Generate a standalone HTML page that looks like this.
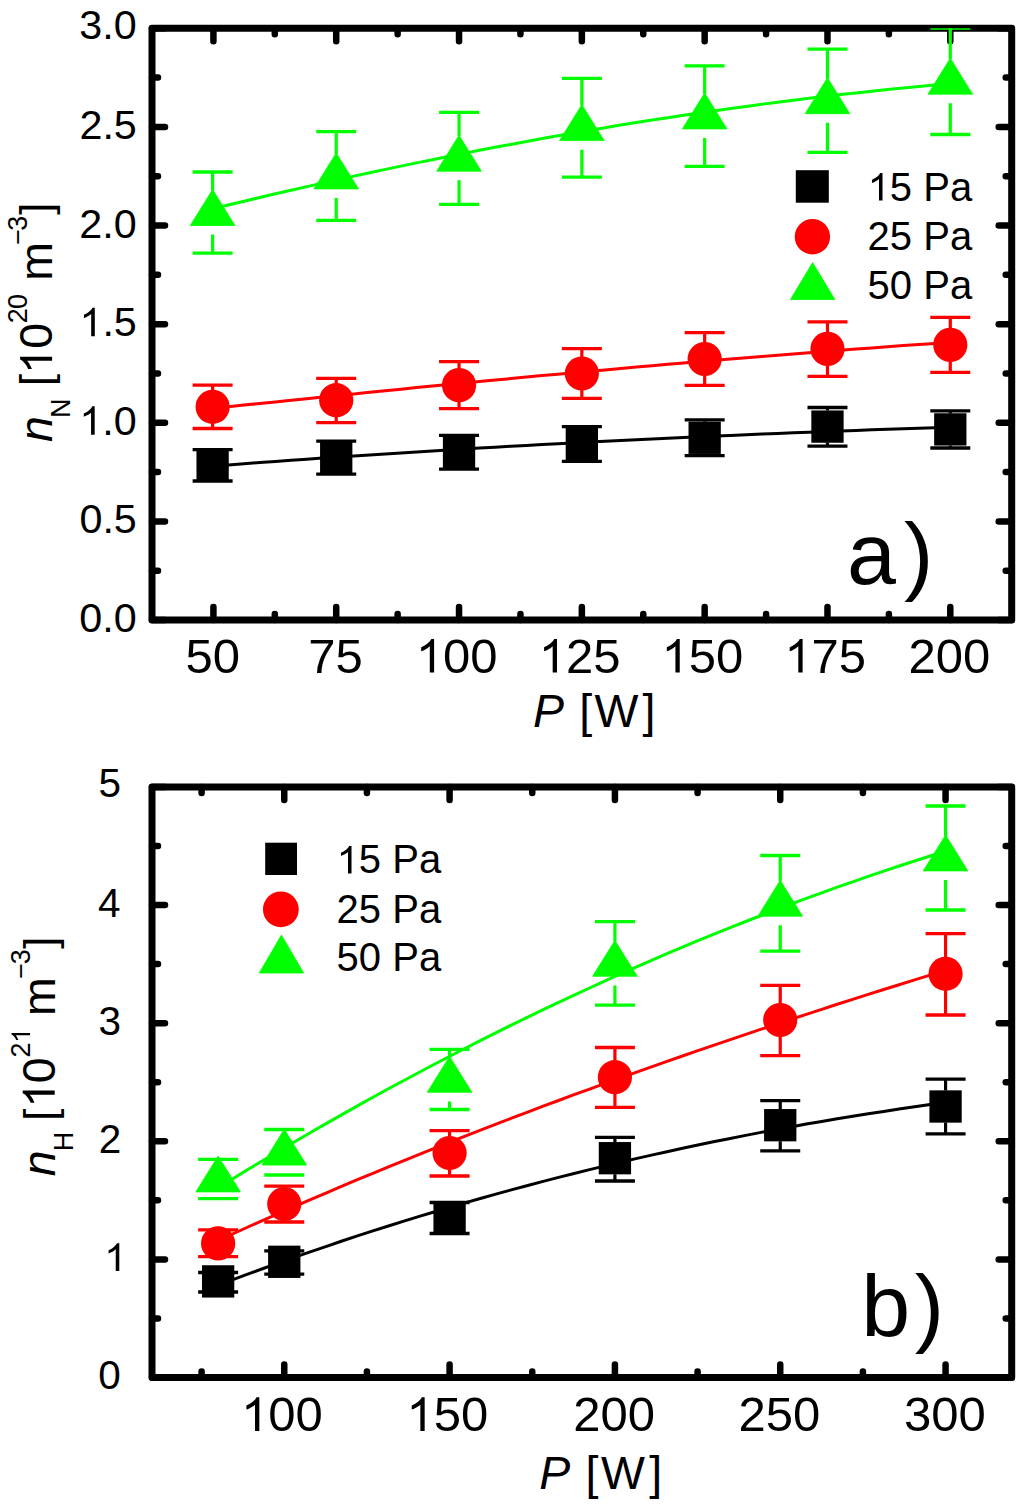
<!DOCTYPE html>
<html><head><meta charset="utf-8"><title>n_N and n_H vs P</title>
<style>
html,body{margin:0;padding:0;background:#fff;}
body{width:1025px;height:1509px;overflow:hidden;}
svg{display:block;}
svg text{font-family:"Liberation Sans", sans-serif;fill:#000;}
</style></head><body>
<svg width="1025" height="1509" viewBox="0 0 1025 1509">
<defs>
<clipPath id="clipA"><rect x="152.0" y="28.3" width="859.70" height="591.70"/></clipPath>
<clipPath id="clipB"><rect x="152.0" y="786.9" width="859.70" height="590.60"/></clipPath>
</defs>
<rect width="1025" height="1509" fill="#fff"/>
<g id="panel-a">
<path d="M213.41 620.00V607.00M213.41 28.30V41.30M336.22 620.00V607.00M336.22 28.30V41.30M459.04 620.00V607.00M459.04 28.30V41.30M581.85 620.00V607.00M581.85 28.30V41.30M704.66 620.00V607.00M704.66 28.30V41.30M827.48 620.00V607.00M827.48 28.30V41.30M950.29 620.00V607.00M950.29 28.30V41.30M274.81 620.00V614.00M274.81 28.30V34.30M397.63 620.00V614.00M397.63 28.30V34.30M520.44 620.00V614.00M520.44 28.30V34.30M643.26 620.00V614.00M643.26 28.30V34.30M766.07 620.00V614.00M766.07 28.30V34.30M888.89 620.00V614.00M888.89 28.30V34.30M152.00 620.00H165.00M1011.70 620.00H998.70M152.00 521.38H165.00M1011.70 521.38H998.70M152.00 422.77H165.00M1011.70 422.77H998.70M152.00 324.15H165.00M1011.70 324.15H998.70M152.00 225.53H165.00M1011.70 225.53H998.70M152.00 126.92H165.00M1011.70 126.92H998.70M152.00 28.30H165.00M1011.70 28.30H998.70M152.00 570.69H158.00M1011.70 570.69H1005.70M152.00 472.07H158.00M1011.70 472.07H1005.70M152.00 373.46H158.00M1011.70 373.46H1005.70M152.00 274.84H158.00M1011.70 274.84H1005.70M152.00 176.22H158.00M1011.70 176.22H1005.70M152.00 77.61H158.00M1011.70 77.61H1005.70" fill="none" stroke="#000" stroke-width="6.5" stroke-linecap="round"/>
<rect x="152.0" y="28.3" width="859.70" height="591.70" fill="none" stroke="#000" stroke-width="7" stroke-linejoin="round"/>
<g clip-path="url(#clipA)">
<polyline points="212.6,466.1 228.3,464.9 244.0,463.7 259.7,462.5 275.4,461.4 291.1,460.3 306.8,459.2 322.5,458.1 338.2,457.0 353.9,456.0 369.6,454.9 385.3,453.9 401.0,452.9 416.6,451.9 432.3,450.9 448.0,450.0 463.7,449.0 479.4,448.1 495.1,447.2 510.8,446.3 526.5,445.4 542.2,444.6 557.9,443.7 573.6,442.9 589.3,442.1 605.0,441.3 620.7,440.5 636.4,439.7 652.1,438.9 667.8,438.2 683.5,437.5 699.2,436.8 714.9,436.1 730.6,435.4 746.3,434.7 761.9,434.1 777.6,433.4 793.3,432.8 809.0,432.2 824.7,431.6 840.4,431.0 856.1,430.4 871.8,429.8 887.5,429.3 903.2,428.8 918.9,428.2 934.6,427.7 950.3,427.2" fill="none" stroke="#000000" stroke-width="3" stroke-linejoin="round"/>
<path d="M192.61 449.60H232.61M192.61 481.00H232.61" stroke="#000000" stroke-width="3.3" fill="none"/>
<path d="M336.22 441.70V441.10M336.22 473.70V474.20" stroke="#000000" stroke-width="3.2" fill="none"/><path d="M316.22 441.10H356.22M316.22 474.20H356.22" stroke="#000000" stroke-width="3.3" fill="none"/>
<path d="M459.04 436.20V435.30M459.04 468.20V469.10" stroke="#000000" stroke-width="3.2" fill="none"/><path d="M439.04 435.30H479.04M439.04 469.10H479.04" stroke="#000000" stroke-width="3.3" fill="none"/>
<path d="M581.85 428.00V426.60M581.85 460.00V461.40" stroke="#000000" stroke-width="3.2" fill="none"/><path d="M561.85 426.60H601.85M561.85 461.40H601.85" stroke="#000000" stroke-width="3.3" fill="none"/>
<path d="M704.66 421.80V419.80M704.66 453.80V455.70" stroke="#000000" stroke-width="3.2" fill="none"/><path d="M684.66 419.80H724.66M684.66 455.70H724.66" stroke="#000000" stroke-width="3.3" fill="none"/>
<path d="M827.48 410.60V407.50M827.48 442.60V446.10" stroke="#000000" stroke-width="3.2" fill="none"/><path d="M807.48 407.50H847.48M807.48 446.10H847.48" stroke="#000000" stroke-width="3.3" fill="none"/>
<path d="M950.29 413.40V410.90M950.29 445.40V448.00" stroke="#000000" stroke-width="3.2" fill="none"/><path d="M930.29 410.90H970.29M930.29 448.00H970.29" stroke="#000000" stroke-width="3.3" fill="none"/>
<rect x="196.46" y="449.15" width="32.30" height="32.30" fill="#000000"/>
<rect x="320.07" y="441.55" width="32.30" height="32.30" fill="#000000"/>
<rect x="442.89" y="436.05" width="32.30" height="32.30" fill="#000000"/>
<rect x="565.70" y="427.85" width="32.30" height="32.30" fill="#000000"/>
<rect x="688.51" y="421.65" width="32.30" height="32.30" fill="#000000"/>
<rect x="811.33" y="410.45" width="32.30" height="32.30" fill="#000000"/>
<rect x="934.14" y="413.25" width="32.30" height="32.30" fill="#000000"/>
<polyline points="212.6,408.4 228.3,406.8 244.0,405.1 259.7,403.5 275.4,401.9 291.1,400.3 306.8,398.7 322.5,397.1 338.2,395.5 353.9,393.9 369.6,392.3 385.3,390.8 401.0,389.2 416.6,387.6 432.3,386.1 448.0,384.6 463.7,383.1 479.4,381.6 495.1,380.1 510.8,378.6 526.5,377.1 542.2,375.6 557.9,374.2 573.6,372.7 589.3,371.3 605.0,369.9 620.7,368.5 636.4,367.1 652.1,365.7 667.8,364.3 683.5,363.0 699.2,361.6 714.9,360.3 730.6,359.0 746.3,357.7 761.9,356.4 777.6,355.2 793.3,353.9 809.0,352.7 824.7,351.4 840.4,350.2 856.1,349.1 871.8,347.9 887.5,346.7 903.2,345.6 918.9,344.5 934.6,343.4 950.3,342.3" fill="none" stroke="#ff0000" stroke-width="3" stroke-linejoin="round"/>
<path d="M212.61 390.30V385.10M212.61 423.30V428.50" stroke="#ff0000" stroke-width="3.2" fill="none"/><path d="M192.61 385.10H232.61M192.61 428.50H232.61" stroke="#ff0000" stroke-width="3.3" fill="none"/>
<path d="M336.22 383.70V378.30M336.22 416.70V422.70" stroke="#ff0000" stroke-width="3.2" fill="none"/><path d="M316.22 378.30H356.22M316.22 422.70H356.22" stroke="#ff0000" stroke-width="3.3" fill="none"/>
<path d="M459.04 368.60V361.70M459.04 401.60V408.60" stroke="#ff0000" stroke-width="3.2" fill="none"/><path d="M439.04 361.70H479.04M439.04 408.60H479.04" stroke="#ff0000" stroke-width="3.3" fill="none"/>
<path d="M581.85 357.00V348.70M581.85 390.00V398.30" stroke="#ff0000" stroke-width="3.2" fill="none"/><path d="M561.85 348.70H601.85M561.85 398.30H601.85" stroke="#ff0000" stroke-width="3.3" fill="none"/>
<path d="M704.66 342.50V332.60M704.66 375.50V385.30" stroke="#ff0000" stroke-width="3.2" fill="none"/><path d="M684.66 332.60H724.66M684.66 385.30H724.66" stroke="#ff0000" stroke-width="3.3" fill="none"/>
<path d="M827.48 332.40V321.90M827.48 365.40V376.40" stroke="#ff0000" stroke-width="3.2" fill="none"/><path d="M807.48 321.90H847.48M807.48 376.40H847.48" stroke="#ff0000" stroke-width="3.3" fill="none"/>
<path d="M950.29 328.40V317.40M950.29 361.40V372.30" stroke="#ff0000" stroke-width="3.2" fill="none"/><path d="M930.29 317.40H970.29M930.29 372.30H970.29" stroke="#ff0000" stroke-width="3.3" fill="none"/>
<circle cx="212.61" cy="406.80" r="17.10" fill="#ff0000"/>
<circle cx="336.22" cy="400.20" r="17.10" fill="#ff0000"/>
<circle cx="459.04" cy="385.10" r="17.10" fill="#ff0000"/>
<circle cx="581.85" cy="373.50" r="17.10" fill="#ff0000"/>
<circle cx="704.66" cy="359.00" r="17.10" fill="#ff0000"/>
<circle cx="827.48" cy="348.90" r="17.10" fill="#ff0000"/>
<circle cx="950.29" cy="344.90" r="17.10" fill="#ff0000"/>
<polyline points="212.6,208.8 228.3,205.0 244.0,201.2 259.7,197.5 275.4,193.8 291.1,190.2 306.8,186.6 322.5,183.1 338.2,179.6 353.9,176.1 369.6,172.7 385.3,169.4 401.0,166.1 416.6,162.9 432.3,159.7 448.0,156.5 463.7,153.4 479.4,150.3 495.1,147.3 510.8,144.4 526.5,141.5 542.2,138.6 557.9,135.8 573.6,133.1 589.3,130.4 605.0,127.7 620.7,125.1 636.4,122.6 652.1,120.1 667.8,117.7 683.5,115.3 699.2,113.0 714.9,110.7 730.6,108.5 746.3,106.4 761.9,104.3 777.6,102.2 793.3,100.2 809.0,98.3 824.7,96.4 840.4,94.6 856.1,92.9 871.8,91.2 887.5,89.5 903.2,88.0 918.9,86.4 934.6,85.0 950.3,83.6" fill="none" stroke="#00ff00" stroke-width="3" stroke-linejoin="round"/>
<path d="M212.61 190.60V172.00M212.61 234.60V253.20" stroke="#00ff00" stroke-width="3.2" fill="none"/><path d="M192.61 172.00H232.61M192.61 253.20H232.61" stroke="#00ff00" stroke-width="3.3" fill="none"/>
<path d="M336.22 154.00V131.60M336.22 198.00V220.40" stroke="#00ff00" stroke-width="3.2" fill="none"/><path d="M316.22 131.60H356.22M316.22 220.40H356.22" stroke="#00ff00" stroke-width="3.3" fill="none"/>
<path d="M459.04 136.30V112.30M459.04 180.30V204.30" stroke="#00ff00" stroke-width="3.2" fill="none"/><path d="M439.04 112.30H479.04M439.04 204.30H479.04" stroke="#00ff00" stroke-width="3.3" fill="none"/>
<path d="M581.85 105.70V78.30M581.85 149.70V177.10" stroke="#00ff00" stroke-width="3.2" fill="none"/><path d="M561.85 78.30H601.85M561.85 177.10H601.85" stroke="#00ff00" stroke-width="3.3" fill="none"/>
<path d="M704.66 94.00V65.80M704.66 138.00V166.30" stroke="#00ff00" stroke-width="3.2" fill="none"/><path d="M684.66 65.80H724.66M684.66 166.30H724.66" stroke="#00ff00" stroke-width="3.3" fill="none"/>
<path d="M827.48 78.80V49.20M827.48 122.80V152.40" stroke="#00ff00" stroke-width="3.2" fill="none"/><path d="M807.48 49.20H847.48M807.48 152.40H847.48" stroke="#00ff00" stroke-width="3.3" fill="none"/>
<path d="M950.29 59.30V28.10M950.29 103.30V134.50" stroke="#00ff00" stroke-width="3.2" fill="none"/><path d="M930.29 28.10H970.29M930.29 134.50H970.29" stroke="#00ff00" stroke-width="3.3" fill="none"/>
<path d="M212.61 189.60L234.91 225.50L190.31 225.50Z" fill="#00ff00" stroke="#00ff00" stroke-width="0.8" stroke-linejoin="round"/>
<path d="M336.22 153.00L358.52 188.90L313.92 188.90Z" fill="#00ff00" stroke="#00ff00" stroke-width="0.8" stroke-linejoin="round"/>
<path d="M459.04 135.30L481.34 171.20L436.74 171.20Z" fill="#00ff00" stroke="#00ff00" stroke-width="0.8" stroke-linejoin="round"/>
<path d="M581.85 104.70L604.15 140.60L559.55 140.60Z" fill="#00ff00" stroke="#00ff00" stroke-width="0.8" stroke-linejoin="round"/>
<path d="M704.66 93.00L726.96 128.90L682.36 128.90Z" fill="#00ff00" stroke="#00ff00" stroke-width="0.8" stroke-linejoin="round"/>
<path d="M827.48 77.80L849.78 113.70L805.18 113.70Z" fill="#00ff00" stroke="#00ff00" stroke-width="0.8" stroke-linejoin="round"/>
<path d="M950.29 58.30L972.59 94.20L927.99 94.20Z" fill="#00ff00" stroke="#00ff00" stroke-width="0.8" stroke-linejoin="round"/>
</g>
<text x="79.30 102.27 113.74" y="632.00" font-size="41.3" fill="#000" >0.0</text>
<text x="79.42 102.39 113.87" y="533.38" font-size="41.3" fill="#000" >0.5</text>
<text x="102.27 113.74" y="434.77" font-size="41.3" fill="#000" >.0</text><path d="M94.69 434.77L91.06 434.77L91.06 412.63Q89.75 413.82 88.68 414.42Q87.61 415.02 86.54 415.62Q85.47 416.22 83.80 416.81L83.80 413.46Q86.80 412.11 87.94 411.14Q89.08 410.17 90.22 409.21Q91.36 408.24 92.31 406.35L94.69 406.35Z" fill="#000"/>
<text x="102.39 113.87" y="336.15" font-size="41.3" fill="#000" >.5</text><path d="M94.81 336.15L91.18 336.15L91.18 314.01Q89.87 315.21 88.80 315.80Q87.73 316.40 86.66 317.00Q85.59 317.60 83.92 318.20L83.92 314.84Q86.92 313.49 88.06 312.52Q89.20 311.56 90.34 310.59Q91.48 309.63 92.43 307.74L94.81 307.74Z" fill="#000"/>
<text x="79.30 102.27 113.74" y="237.53" font-size="41.3" fill="#000" >2.0</text>
<text x="79.42 102.39 113.87" y="138.92" font-size="41.3" fill="#000" >2.5</text>
<text x="79.30 102.27 113.74" y="39.30" font-size="41.3" fill="#000" >3.0</text>
<text x="185.53 212.78" y="672.60" font-size="49" fill="#000" >50</text>
<text x="308.14 335.39" y="672.60" font-size="49" fill="#000" >75</text>
<text x="443.10 470.35" y="672.60" font-size="49" fill="#000" >00</text><path d="M434.10 672.60L429.80 672.60L429.80 646.33Q428.24 647.75 426.97 648.46Q425.71 649.17 424.44 649.88Q423.17 650.59 421.18 651.30L421.18 647.32Q424.75 645.71 426.10 644.57Q427.45 643.42 428.80 642.28Q430.16 641.13 431.28 638.89L434.10 638.89Z" fill="#000"/>
<text x="565.99 593.24" y="672.60" font-size="49" fill="#000" >25</text><path d="M556.99 672.60L552.68 672.60L552.68 646.33Q551.13 647.75 549.86 648.46Q548.59 649.17 547.32 649.88Q546.06 650.59 544.07 651.30L544.07 647.32Q547.63 645.71 548.99 644.57Q550.34 643.42 551.69 642.28Q553.04 641.13 554.17 638.89L556.99 638.89Z" fill="#000"/>
<text x="688.73 715.98" y="672.60" font-size="49" fill="#000" >50</text><path d="M679.73 672.60L675.43 672.60L675.43 646.33Q673.87 647.75 672.60 648.46Q671.33 649.17 670.07 649.88Q668.80 650.59 666.81 651.30L666.81 647.32Q670.38 645.71 671.73 644.57Q673.08 643.42 674.43 642.28Q675.78 641.13 676.91 638.89L679.73 638.89Z" fill="#000"/>
<text x="811.61 838.87" y="672.60" font-size="49" fill="#000" >75</text><path d="M802.62 672.60L798.31 672.60L798.31 646.33Q796.76 647.75 795.49 648.46Q794.22 649.17 792.95 649.88Q791.68 650.59 789.70 651.30L789.70 647.32Q793.26 645.71 794.61 644.57Q795.97 643.42 797.32 642.28Q798.67 641.13 799.79 638.89L802.62 638.89Z" fill="#000"/>
<text x="908.54 935.79 963.04" y="672.60" font-size="49" fill="#000" >200</text>
<text x="533.12" y="727.30" font-size="46.5" font-style="italic" fill="#000" >P</text>
<text x="579.16" y="727.30" font-size="46.5" fill="#000" >[</text>
<text x="594.53" y="727.30" font-size="46.5" fill="#000" >W</text>
<text x="642.62" y="727.30" font-size="46.5" fill="#000" >]</text>
<text x="847.06" y="583.70" font-size="88" fill="#000" >a</text>
<text x="904.12" y="583.70" font-size="88" fill="#000" >)</text>
<rect x="795.80" y="170.20" width="33.00" height="32.50" fill="#000000"/>
<circle cx="812.40" cy="236.70" r="17.70" fill="#ff0000"/>
<path d="M812.65 262.60L834.85 299.50L790.45 299.50Z" fill="#00ff00" stroke="#00ff00" stroke-width="0.8" stroke-linejoin="round"/>
<text x="889.85 923.21 949.89" y="200.50" font-size="40" fill="#000" >5Pa</text><path d="M882.50 200.50L878.99 200.50L878.99 179.06Q877.72 180.22 876.68 180.80Q875.65 181.37 874.61 181.95Q873.58 182.53 871.96 183.11L871.96 179.86Q874.87 178.55 875.97 177.62Q877.07 176.68 878.18 175.75Q879.28 174.81 880.20 172.98L882.50 172.98Z" fill="#000"/>
<text x="867.60 889.85 923.21 949.89" y="249.80" font-size="40" fill="#000" >25Pa</text>
<text x="867.60 889.85 923.21 949.89" y="299.20" font-size="40" fill="#000" >50Pa</text>
<g transform="translate(52.10,0) rotate(-90)"><text x="-442.06" y="0.00" font-size="46.5" font-style="italic" fill="#000" >n</text><text x="-418.06" y="18.10" font-size="27" fill="#000" >N</text><text x="-385.97" y="-1.20" font-size="43.5" fill="#000" >[</text><path d="M-356.72 0.00L-360.81 0.00L-360.81 -24.93Q-362.28 -23.58 -363.49 -22.91Q-364.69 -22.23 -365.89 -21.56Q-367.10 -20.89 -368.98 -20.21L-368.98 -23.99Q-365.60 -25.51 -364.31 -26.60Q-363.03 -27.69 -361.75 -28.77Q-360.47 -29.86 -359.40 -31.99L-356.72 -31.99Z" fill="#000"/><text x="-348.63" y="0.00" font-size="46.5" fill="#000" >0</text><text x="-323.26" y="-25.10" font-size="27" fill="#000" >2</text><text x="-308.91" y="-25.10" font-size="27" fill="#000" >0</text><text x="-280.73" y="0.00" font-size="46.5" fill="#000" >m</text><text x="-244.64" y="-25.10" font-size="27" fill="#000" >−</text><text x="-230.68" y="-25.10" font-size="27" fill="#000" >3</text><text x="-214.66" y="-1.20" font-size="43.5" fill="#000" >]</text></g>
</g>
<g id="panel-b">
<path d="M284.26 1377.50V1364.50M284.26 786.90V799.90M449.59 1377.50V1364.50M449.59 786.90V799.90M614.92 1377.50V1364.50M614.92 786.90V799.90M780.24 1377.50V1364.50M780.24 786.90V799.90M945.57 1377.50V1364.50M945.57 786.90V799.90M201.60 1377.50V1371.50M201.60 786.90V792.90M366.93 1377.50V1371.50M366.93 786.90V792.90M532.25 1377.50V1371.50M532.25 786.90V792.90M697.58 1377.50V1371.50M697.58 786.90V792.90M862.91 1377.50V1371.50M862.91 786.90V792.90M152.00 1377.50H165.00M1011.70 1377.50H998.70M152.00 1259.38H165.00M1011.70 1259.38H998.70M152.00 1141.26H165.00M1011.70 1141.26H998.70M152.00 1023.14H165.00M1011.70 1023.14H998.70M152.00 905.02H165.00M1011.70 905.02H998.70M152.00 786.90H165.00M1011.70 786.90H998.70M152.00 1318.44H158.00M1011.70 1318.44H1005.70M152.00 1200.32H158.00M1011.70 1200.32H1005.70M152.00 1082.20H158.00M1011.70 1082.20H1005.70M152.00 964.08H158.00M1011.70 964.08H1005.70M152.00 845.96H158.00M1011.70 845.96H1005.70" fill="none" stroke="#000" stroke-width="6.5" stroke-linecap="round"/>
<rect x="152.0" y="786.9" width="859.70" height="590.60" fill="none" stroke="#000" stroke-width="7" stroke-linejoin="round"/>
<g clip-path="url(#clipB)">
<polyline points="218.1,1285.3 233.6,1279.4 249.1,1273.7 264.6,1268.0 280.0,1262.4 295.5,1256.9 311.0,1251.6 326.5,1246.3 342.0,1241.0 357.4,1235.9 372.9,1230.9 388.4,1226.0 403.9,1221.1 419.3,1216.4 434.8,1211.7 450.3,1207.1 465.8,1202.6 481.2,1198.2 496.7,1193.9 512.2,1189.6 527.7,1185.5 543.2,1181.4 558.6,1177.4 574.1,1173.5 589.6,1169.6 605.1,1165.9 620.5,1162.2 636.0,1158.6 651.5,1155.1 667.0,1151.7 682.5,1148.3 697.9,1145.0 713.4,1141.8 728.9,1138.7 744.4,1135.6 759.8,1132.6 775.3,1129.7 790.8,1126.9 806.3,1124.1 821.7,1121.4 837.2,1118.8 852.7,1116.3 868.2,1113.8 883.7,1111.4 899.1,1109.0 914.6,1106.7 930.1,1104.5 945.6,1102.4" fill="none" stroke="#000000" stroke-width="3" stroke-linejoin="round"/>
<path d="M198.13 1272.50H238.13M198.13 1292.00H238.13" stroke="#000000" stroke-width="3.3" fill="none"/>
<path d="M264.26 1250.90H304.26M264.26 1274.10H304.26" stroke="#000000" stroke-width="3.3" fill="none"/>
<path d="M429.59 1202.50H469.59M429.59 1233.50H469.59" stroke="#000000" stroke-width="3.3" fill="none"/>
<path d="M614.92 1142.20V1137.30M614.92 1174.20V1181.00" stroke="#000000" stroke-width="3.2" fill="none"/><path d="M594.92 1137.30H634.92M594.92 1181.00H634.92" stroke="#000000" stroke-width="3.3" fill="none"/>
<path d="M780.24 1109.20V1100.70M780.24 1141.20V1150.90" stroke="#000000" stroke-width="3.2" fill="none"/><path d="M760.24 1100.70H800.24M760.24 1150.90H800.24" stroke="#000000" stroke-width="3.3" fill="none"/>
<path d="M945.57 1090.50V1079.20M945.57 1122.50V1133.80" stroke="#000000" stroke-width="3.2" fill="none"/><path d="M925.57 1079.20H965.57M925.57 1133.80H965.57" stroke="#000000" stroke-width="3.3" fill="none"/>
<rect x="201.98" y="1265.25" width="32.30" height="32.30" fill="#000000"/>
<rect x="268.11" y="1245.65" width="32.30" height="32.30" fill="#000000"/>
<rect x="433.44" y="1201.75" width="32.30" height="32.30" fill="#000000"/>
<rect x="598.77" y="1142.05" width="32.30" height="32.30" fill="#000000"/>
<rect x="764.09" y="1109.05" width="32.30" height="32.30" fill="#000000"/>
<rect x="929.42" y="1090.35" width="32.30" height="32.30" fill="#000000"/>
<polyline points="218.1,1240.5 233.6,1233.5 249.1,1226.5 264.6,1219.6 280.0,1212.8 295.5,1206.1 311.0,1199.4 326.5,1192.8 342.0,1186.2 357.4,1179.7 372.9,1173.3 388.4,1166.9 403.9,1160.6 419.3,1154.3 434.8,1148.1 450.3,1142.0 465.8,1135.9 481.2,1129.9 496.7,1123.9 512.2,1117.9 527.7,1112.1 543.2,1106.2 558.6,1100.5 574.1,1094.7 589.6,1089.1 605.1,1083.4 620.5,1077.9 636.0,1072.3 651.5,1066.8 667.0,1061.4 682.5,1056.0 697.9,1050.7 713.4,1045.4 728.9,1040.1 744.4,1034.9 759.8,1029.7 775.3,1024.5 790.8,1019.4 806.3,1014.4 821.7,1009.3 837.2,1004.3 852.7,999.4 868.2,994.4 883.7,989.5 899.1,984.7 914.6,979.9 930.1,975.1 945.6,970.3" fill="none" stroke="#ff0000" stroke-width="3" stroke-linejoin="round"/>
<path d="M198.13 1229.90H238.13M198.13 1256.70H238.13" stroke="#ff0000" stroke-width="3.3" fill="none"/>
<path d="M284.26 1187.50V1186.20M284.26 1220.50V1222.00" stroke="#ff0000" stroke-width="3.2" fill="none"/><path d="M264.26 1186.20H304.26M264.26 1222.00H304.26" stroke="#ff0000" stroke-width="3.3" fill="none"/>
<path d="M449.59 1136.50V1130.60M449.59 1169.50V1176.00" stroke="#ff0000" stroke-width="3.2" fill="none"/><path d="M429.59 1130.60H469.59M429.59 1176.00H469.59" stroke="#ff0000" stroke-width="3.3" fill="none"/>
<path d="M614.92 1060.70V1047.50M614.92 1093.70V1107.40" stroke="#ff0000" stroke-width="3.2" fill="none"/><path d="M594.92 1047.50H634.92M594.92 1107.40H634.92" stroke="#ff0000" stroke-width="3.3" fill="none"/>
<path d="M780.24 1003.50V985.30M780.24 1036.50V1055.60" stroke="#ff0000" stroke-width="3.2" fill="none"/><path d="M760.24 985.30H800.24M760.24 1055.60H800.24" stroke="#ff0000" stroke-width="3.3" fill="none"/>
<path d="M945.57 957.30V933.60M945.57 990.30V1015.00" stroke="#ff0000" stroke-width="3.2" fill="none"/><path d="M925.57 933.60H965.57M925.57 1015.00H965.57" stroke="#ff0000" stroke-width="3.3" fill="none"/>
<circle cx="218.13" cy="1243.40" r="17.10" fill="#ff0000"/>
<circle cx="284.26" cy="1204.00" r="17.10" fill="#ff0000"/>
<circle cx="449.59" cy="1153.00" r="17.10" fill="#ff0000"/>
<circle cx="614.92" cy="1077.20" r="17.10" fill="#ff0000"/>
<circle cx="780.24" cy="1020.00" r="17.10" fill="#ff0000"/>
<circle cx="945.57" cy="973.80" r="17.10" fill="#ff0000"/>
<polyline points="218.1,1187.7 233.6,1178.2 249.1,1168.8 264.6,1159.5 280.0,1150.3 295.5,1141.2 311.0,1132.2 326.5,1123.4 342.0,1114.6 357.4,1105.9 372.9,1097.3 388.4,1088.8 403.9,1080.5 419.3,1072.2 434.8,1064.0 450.3,1056.0 465.8,1048.0 481.2,1040.1 496.7,1032.4 512.2,1024.7 527.7,1017.2 543.2,1009.7 558.6,1002.4 574.1,995.1 589.6,988.0 605.1,980.9 620.5,974.0 636.0,967.1 651.5,960.4 667.0,953.7 682.5,947.2 697.9,940.7 713.4,934.4 728.9,928.1 744.4,922.0 759.8,916.0 775.3,910.0 790.8,904.2 806.3,898.4 821.7,892.8 837.2,887.2 852.7,881.8 868.2,876.4 883.7,871.2 899.1,866.0 914.6,861.0 930.1,856.0 945.6,851.2" fill="none" stroke="#00ff00" stroke-width="3" stroke-linejoin="round"/>
<path d="M198.13 1159.40H238.13M198.13 1198.70H238.13" stroke="#00ff00" stroke-width="3.3" fill="none"/>
<path d="M284.26 1130.20V1129.50M284.26 1174.20V1175.00" stroke="#00ff00" stroke-width="3.2" fill="none"/><path d="M264.26 1129.50H304.26M264.26 1175.00H304.26" stroke="#00ff00" stroke-width="3.3" fill="none"/>
<path d="M449.59 1057.40V1049.30M449.59 1101.40V1109.50" stroke="#00ff00" stroke-width="3.2" fill="none"/><path d="M429.59 1049.30H469.59M429.59 1109.50H469.59" stroke="#00ff00" stroke-width="3.3" fill="none"/>
<path d="M614.92 941.40V921.60M614.92 985.40V1005.20" stroke="#00ff00" stroke-width="3.2" fill="none"/><path d="M594.92 921.60H634.92M594.92 1005.20H634.92" stroke="#00ff00" stroke-width="3.3" fill="none"/>
<path d="M780.24 881.30V855.50M780.24 925.30V951.10" stroke="#00ff00" stroke-width="3.2" fill="none"/><path d="M760.24 855.50H800.24M760.24 951.10H800.24" stroke="#00ff00" stroke-width="3.3" fill="none"/>
<path d="M945.57 836.00V806.00M945.57 880.00V910.00" stroke="#00ff00" stroke-width="3.2" fill="none"/><path d="M925.57 806.00H965.57M925.57 910.00H965.57" stroke="#00ff00" stroke-width="3.3" fill="none"/>
<path d="M218.13 1156.00L240.43 1191.90L195.83 1191.90Z" fill="#00ff00" stroke="#00ff00" stroke-width="0.8" stroke-linejoin="round"/>
<path d="M284.26 1129.20L306.56 1165.10L261.96 1165.10Z" fill="#00ff00" stroke="#00ff00" stroke-width="0.8" stroke-linejoin="round"/>
<path d="M449.59 1056.40L471.89 1092.30L427.29 1092.30Z" fill="#00ff00" stroke="#00ff00" stroke-width="0.8" stroke-linejoin="round"/>
<path d="M614.92 940.40L637.22 976.30L592.62 976.30Z" fill="#00ff00" stroke="#00ff00" stroke-width="0.8" stroke-linejoin="round"/>
<path d="M780.24 880.30L802.54 916.20L757.94 916.20Z" fill="#00ff00" stroke="#00ff00" stroke-width="0.8" stroke-linejoin="round"/>
<path d="M945.57 835.00L967.87 870.90L923.27 870.90Z" fill="#00ff00" stroke="#00ff00" stroke-width="0.8" stroke-linejoin="round"/>
</g>
<text x="98.36" y="1389.20" font-size="40.5" fill="#000" >0</text>
<path d="M119.30 1271.08L115.74 1271.08L115.74 1249.37Q114.46 1250.54 113.41 1251.13Q112.36 1251.72 111.31 1252.30Q110.26 1252.89 108.62 1253.48L108.62 1250.18Q111.57 1248.86 112.69 1247.91Q113.80 1246.96 114.92 1246.02Q116.04 1245.07 116.97 1243.22L119.30 1243.22Z" fill="#000"/>
<text x="98.81" y="1152.96" font-size="40.5" fill="#000" >2</text>
<text x="98.56" y="1034.84" font-size="40.5" fill="#000" >3</text>
<text x="97.96" y="916.72" font-size="40.5" fill="#000" >4</text>
<text x="98.48" y="797.30" font-size="40.5" fill="#000" >5</text>
<text x="268.33 295.58" y="1430.90" font-size="49" fill="#000" >00</text><path d="M259.33 1430.90L255.02 1430.90L255.02 1404.63Q253.47 1406.05 252.20 1406.76Q250.93 1407.47 249.66 1408.18Q248.39 1408.89 246.41 1409.60L246.41 1405.62Q249.97 1404.01 251.33 1402.87Q252.68 1401.72 254.03 1400.58Q255.38 1399.43 256.51 1397.19L259.33 1397.19Z" fill="#000"/>
<text x="433.65 460.90" y="1430.90" font-size="49" fill="#000" >50</text><path d="M424.66 1430.90L420.35 1430.90L420.35 1404.63Q418.79 1406.05 417.53 1406.76Q416.26 1407.47 414.99 1408.18Q413.72 1408.89 411.74 1409.60L411.74 1405.62Q415.30 1404.01 416.65 1402.87Q418.00 1401.72 419.36 1400.58Q420.71 1399.43 421.83 1397.19L424.66 1397.19Z" fill="#000"/>
<text x="573.16 600.41 627.67" y="1430.90" font-size="49" fill="#000" >200</text>
<text x="738.49 765.74 792.99" y="1430.90" font-size="49" fill="#000" >250</text>
<text x="904.12 931.37 958.62" y="1430.90" font-size="49" fill="#000" >300</text>
<text x="539.32" y="1489.30" font-size="46.5" font-style="italic" fill="#000" >P</text>
<text x="585.56" y="1489.30" font-size="46.5" fill="#000" >[</text>
<text x="601.03" y="1489.30" font-size="46.5" fill="#000" >W</text>
<text x="649.32" y="1489.30" font-size="46.5" fill="#000" >]</text>
<text x="861.34" y="1335.80" font-size="88" fill="#000" >b</text>
<text x="914.82" y="1335.80" font-size="88" fill="#000" >)</text>
<rect x="265.20" y="842.70" width="31.80" height="32.30" fill="#000000"/>
<circle cx="280.85" cy="909.30" r="17.90" fill="#ff0000"/>
<path d="M281.45 935.10L303.65 973.00L259.25 973.00Z" fill="#00ff00" stroke="#00ff00" stroke-width="0.8" stroke-linejoin="round"/>
<text x="358.85 392.21 418.89" y="873.40" font-size="40" fill="#000" >5Pa</text><path d="M351.50 873.40L347.99 873.40L347.99 851.96Q346.72 853.12 345.68 853.70Q344.65 854.27 343.61 854.85Q342.58 855.43 340.96 856.01L340.96 852.76Q343.87 851.45 344.97 850.52Q346.07 849.58 347.18 848.65Q348.28 847.71 349.20 845.88L351.50 845.88Z" fill="#000"/>
<text x="336.60 358.85 392.21 418.89" y="923.00" font-size="40" fill="#000" >25Pa</text>
<text x="336.60 358.85 392.21 418.89" y="971.00" font-size="40" fill="#000" >50Pa</text>
<g transform="translate(54.70,0) rotate(-90)"><text x="-1176.36" y="0.00" font-size="46.5" font-style="italic" fill="#000" >n</text><text x="-1151.26" y="18.10" font-size="27" fill="#000" >H</text><text x="-1120.72" y="0.00" font-size="43.5" fill="#000" >[</text><path d="M-1090.57 0.00L-1094.66 0.00L-1094.66 -24.93Q-1096.13 -23.58 -1097.34 -22.91Q-1098.54 -22.23 -1099.74 -21.56Q-1100.95 -20.89 -1102.83 -20.21L-1102.83 -23.99Q-1099.45 -25.51 -1098.16 -26.60Q-1096.88 -27.69 -1095.60 -28.77Q-1094.32 -29.86 -1093.25 -31.99L-1090.57 -31.99Z" fill="#000"/><text x="-1083.18" y="0.00" font-size="46.5" fill="#000" >0</text><text x="-1057.41" y="-24.60" font-size="27" fill="#000" >2</text><path d="M-1032.94 -24.60L-1035.31 -24.60L-1035.31 -39.07Q-1036.17 -38.29 -1036.87 -37.90Q-1037.57 -37.51 -1038.27 -37.12Q-1038.97 -36.73 -1040.06 -36.34L-1040.06 -38.53Q-1038.10 -39.42 -1037.35 -40.05Q-1036.61 -40.68 -1035.86 -41.31Q-1035.12 -41.94 -1034.50 -43.18L-1032.94 -43.18Z" fill="#000"/><text x="-1015.93" y="0.00" font-size="46.5" fill="#000" >m</text><text x="-978.79" y="-24.60" font-size="27" fill="#000" >−</text><text x="-964.13" y="-24.60" font-size="27" fill="#000" >3</text><text x="-948.66" y="0.00" font-size="43.5" fill="#000" >]</text></g>
</g>
</svg>
</body></html>
